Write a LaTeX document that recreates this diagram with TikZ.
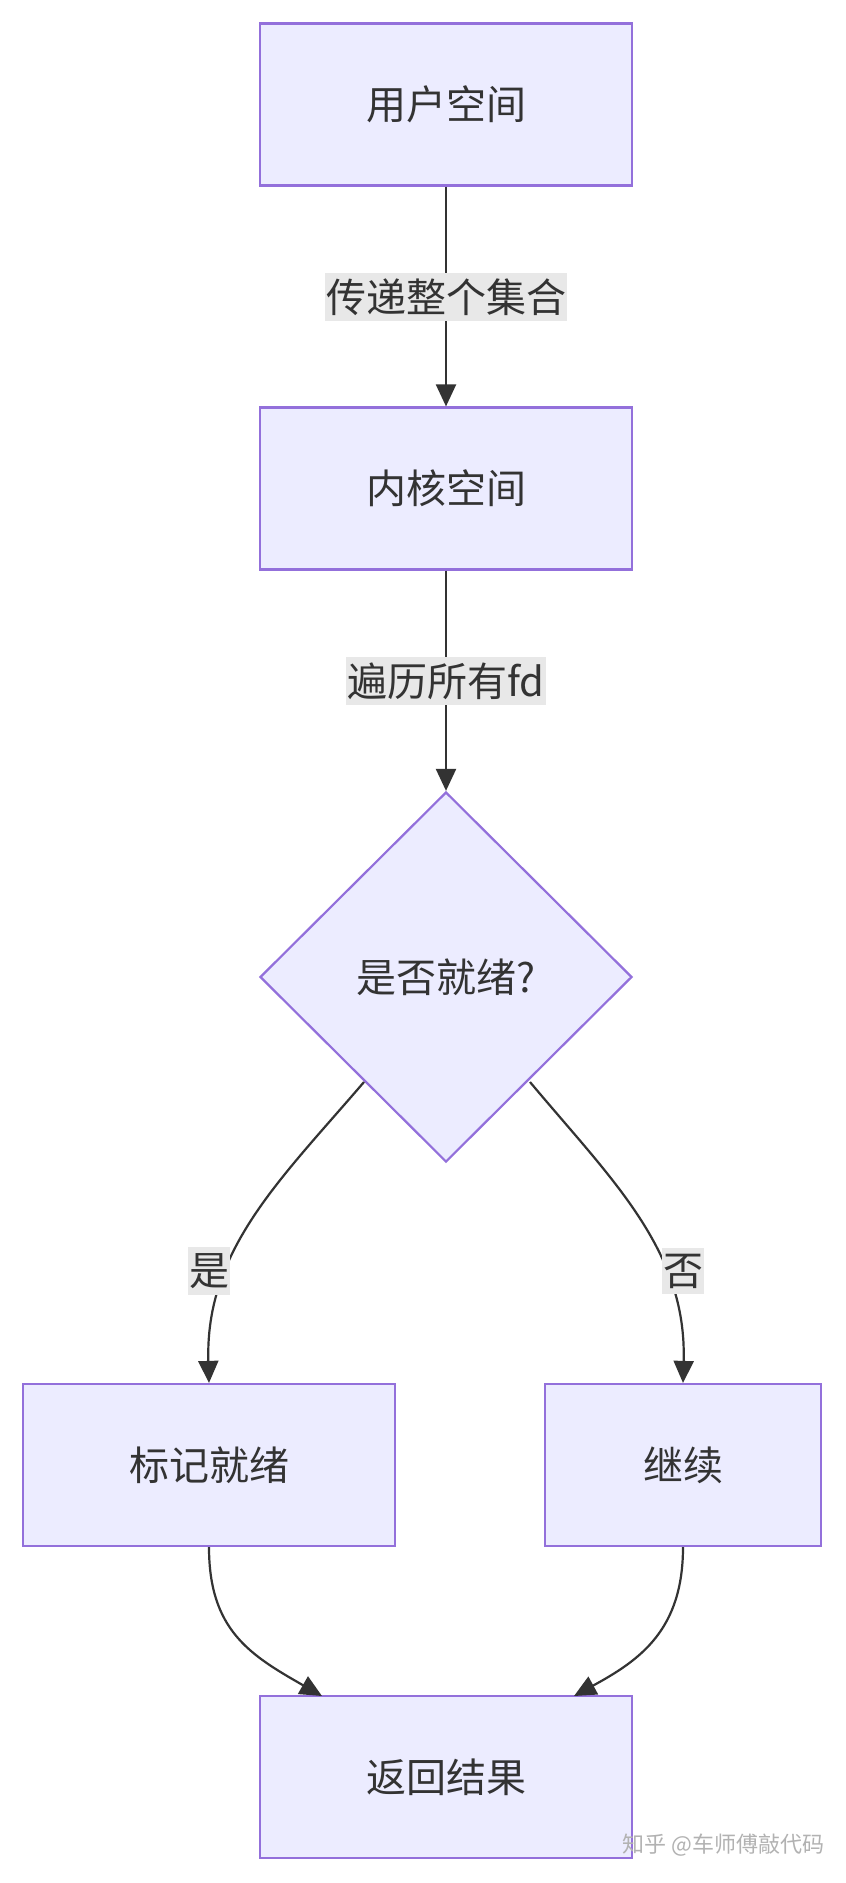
\documentclass[tikz,border=0pt]{standalone}
\usepackage{fontspec}
\setmainfont{Noto Sans CJK SC}
\usetikzlibrary{shapes.geometric,arrows.meta}
\definecolor{nfill}{HTML}{ECECFF}
\definecolor{nline}{HTML}{9370DB}
\definecolor{eline}{HTML}{333333}
\definecolor{lbg}{HTML}{E8E8E8}
\begin{document}
\begin{tikzpicture}[x=1pt,y=-1pt,
  box/.style={draw=nline,fill=nfill,line width=2.2pt,minimum width=372pt,minimum height=162pt,inner sep=0pt,font=\fontsize{40}{48}\selectfont,text=eline},
  dia/.style={draw=nline,fill=nfill,line width=2.2pt,diamond,minimum width=372pt,minimum height=370pt,inner sep=0pt,font=\fontsize{40}{48}\selectfont,text=eline},
  lab/.style={fill=lbg,inner xsep=1pt,inner ysep=6pt,font=\fontsize{40}{48}\selectfont,text=eline},
  edge/.style={draw=eline,line width=2.2pt,-{Triangle[length=22pt,width=20pt]}}]
\useasboundingbox (0,0) rectangle (846,1883);
\fill[white] (0,0) rectangle (846,1883);
\node[box] (u) at (446,104.5) {用户空间};
\node[box] (k) at (446,488.5) {内核空间};
\node[dia] (d) at (446,977) {是否就绪?};
\node[box] (m) at (209,1465) {标记就绪};
\node[box,minimum width=276pt] (c) at (683,1465) {继续};
\node[box] (r) at (446,1777) {返回结果};
\draw[edge] (u) -- (k);
\node[lab] (l1) at (446,297) {传递整个集合};
\draw[edge] (k) -- (d);
\node[lab] (l2) at (446,681) {遍历所有fd};
\coordinate (ds) at (364,1082);
\coordinate (de) at (530,1082);
\draw[edge] (ds) .. controls (280,1180) and (205,1250) .. (m.north);
\draw[edge] (de) .. controls (612,1180) and (687,1250) .. (c.north);
\node[lab] (l3) at (209,1271) {是};
\node[lab] (l4) at (683,1271) {否};
\coordinate (r1) at (322,1696);
\coordinate (r2) at (574,1696);
\draw[edge] (m.south) .. controls (209,1630) and (250,1655) .. (r1);
\draw[edge] (c.south) .. controls (683,1630) and (640,1660) .. (r2);
\node[text=gray!60,font=\fontsize{22}{26}\selectfont,anchor=east] (wm) at (828,1845) {知乎 @车师傅敲代码};
\end{tikzpicture}
\end{document}
